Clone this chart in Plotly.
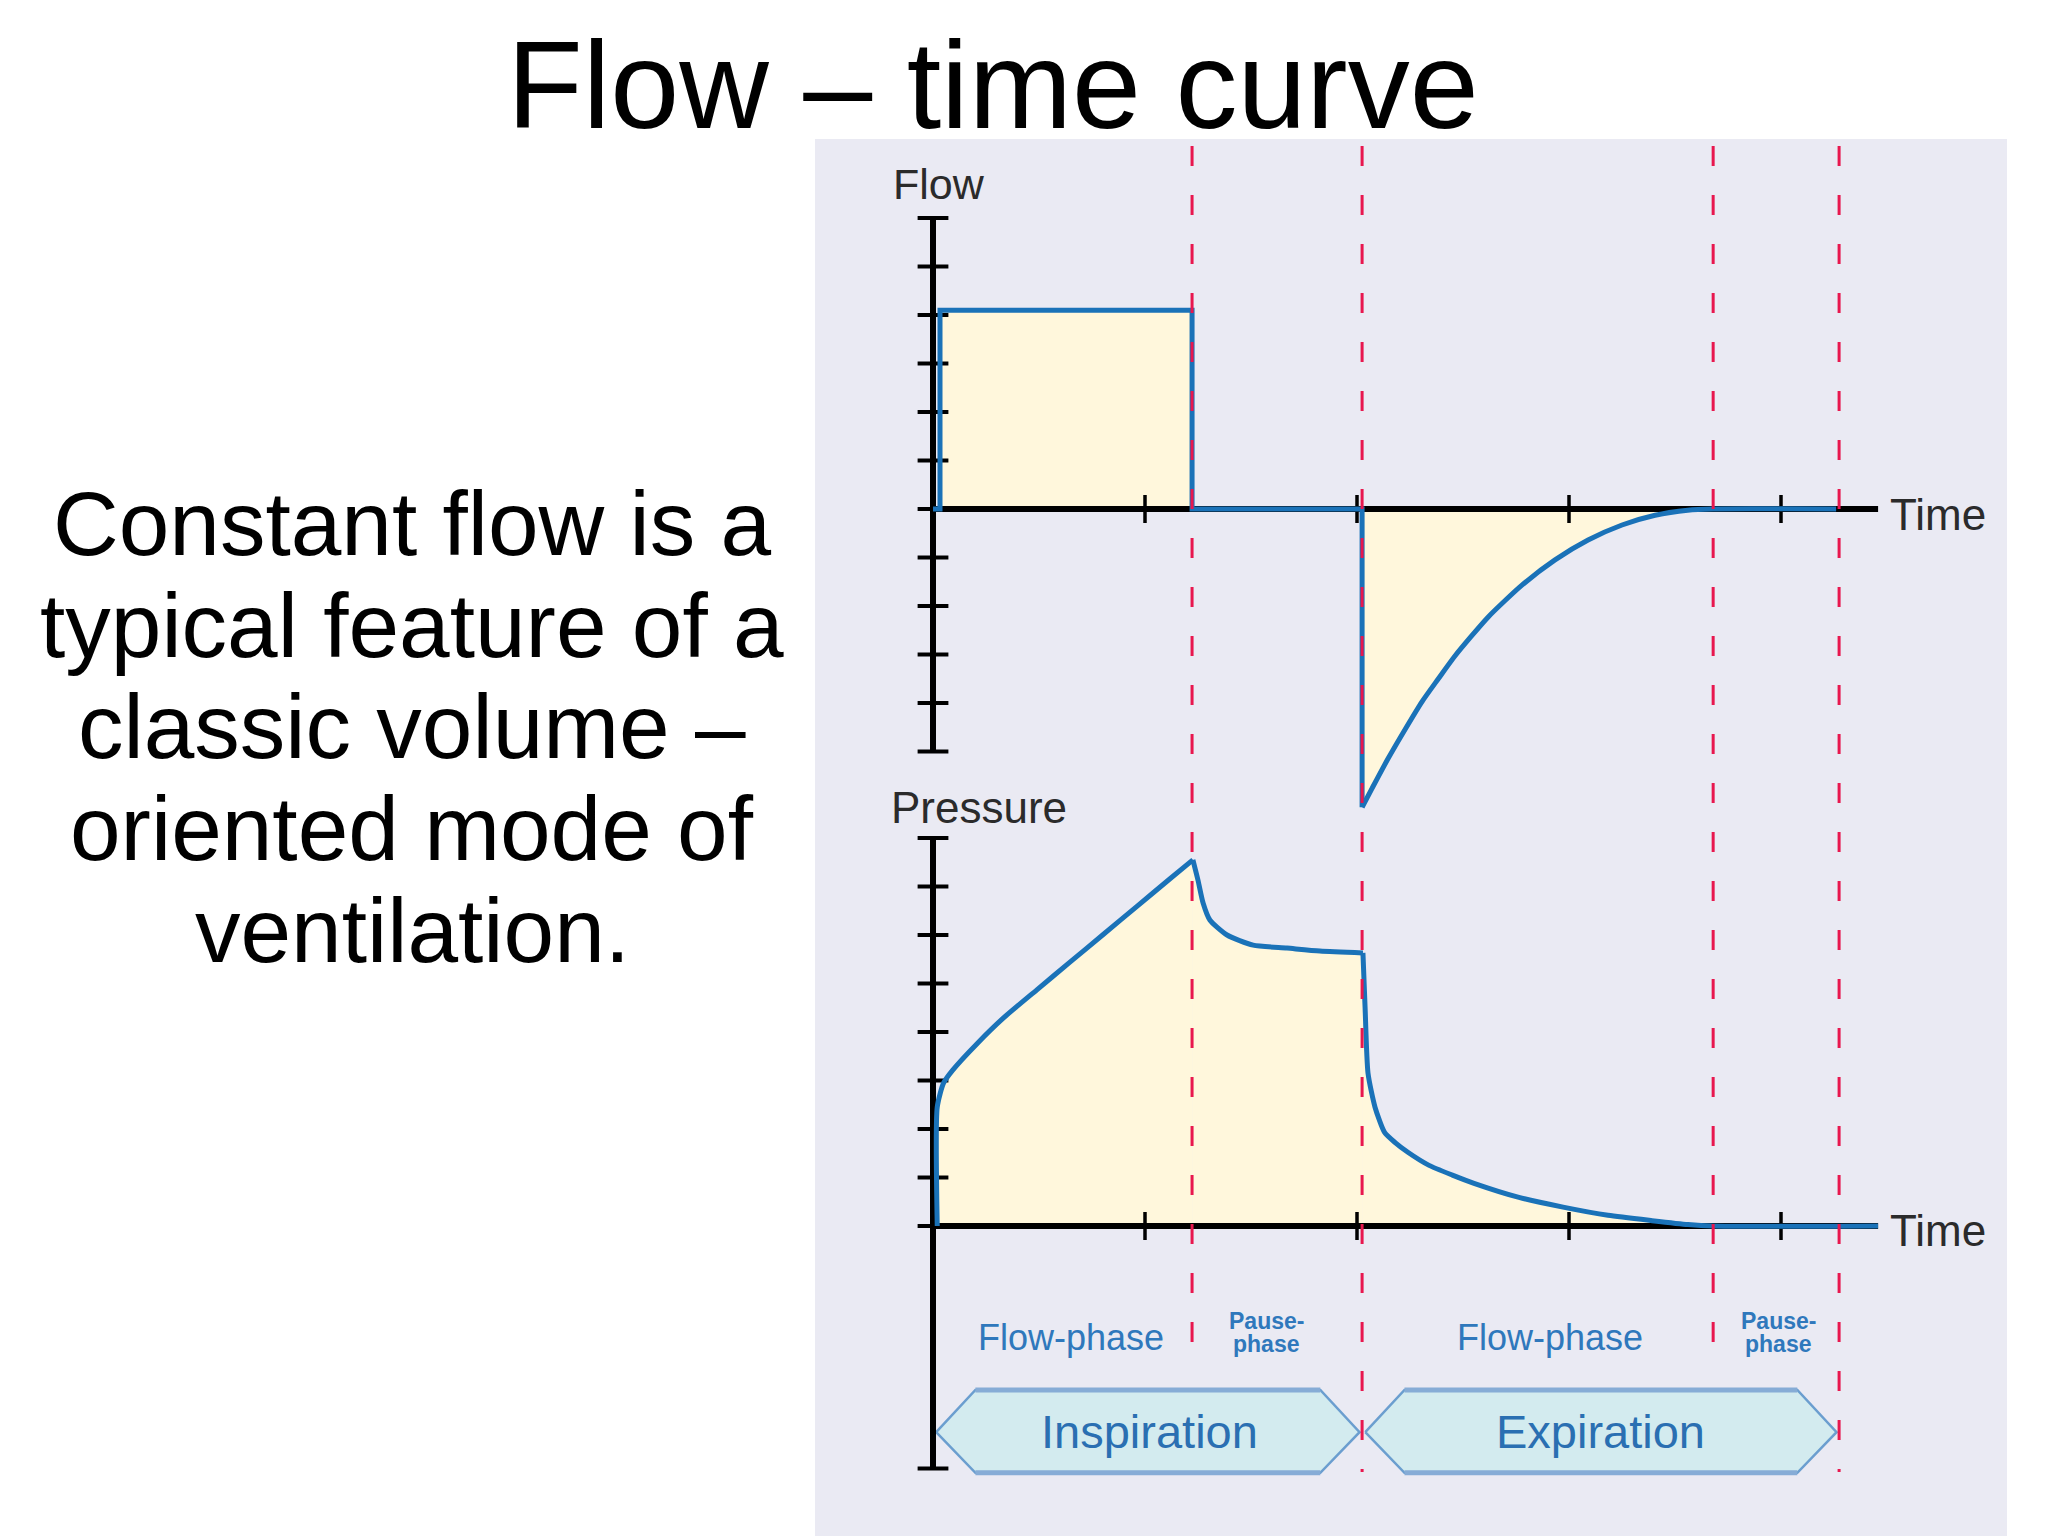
import plotly.graph_objects as go

# ---------------- data ----------------
# phase boundaries on the time axis (end of insp. flow, end of insp. pause, end of exp. flow, end of exp. pause)
phase_bounds = [1.222, 2.024, 3.68, 4.274]
time_axis_end = 4.458

# Flow-time curve: constant inspiratory flow, pause, passive expiration
flow_step_t = [0.0, 0.033, 0.033, 1.222, 1.222, 2.024, 2.024]
flow_step_v = [0.0, 0.0, 4.10, 4.10, 0.0, 0.0, -6.15]
flow_exp_t = [2.024, 2.071, 2.146, 2.226, 2.307, 2.382, 2.462, 2.618, 2.778, 2.934,
              3.09, 3.25, 3.406, 3.56, 3.68, 4.26]
flow_exp_v = [-6.15, -5.76, -5.15, -4.55, -3.97, -3.51, -3.03, -2.23, -1.57, -1.05,
              -0.64, -0.33, -0.13, -0.025, 0.0, 0.0]

# Pressure-time curve
pres_t = [0.02, 0.02, 0.05, 0.094, 0.21, 0.33, 0.49, 0.646, 0.80, 0.962, 1.118, 1.226,
          1.25, 1.274, 1.306, 1.387, 1.51, 1.67, 1.825, 2.028,
          2.038, 2.052, 2.085, 2.13, 2.18, 2.24, 2.34, 2.45, 2.552, 2.764, 2.972, 3.184,
          3.392, 3.561, 3.68, 4.458]
pres_v = [0.0, 2.45, 2.95, 3.22, 3.77, 4.28, 4.87, 5.44, 6.00, 6.59, 7.16, 7.55,
          7.13, 6.66, 6.31, 6.00, 5.79, 5.73, 5.67, 5.63,
          4.52, 3.15, 2.45, 1.93, 1.72, 1.52, 1.25, 1.05, 0.88, 0.59, 0.39, 0.22,
          0.11, 0.03, 0.0, 0.0]

# axis ticks
flow_yticks = [-5, -4, -3, -2, -1, 0, 1, 2, 3, 4, 5, 6]
pres_yticks = [-5, 0, 1, 2, 3, 4, 5, 6, 7, 8]
time_ticks = [1, 2, 3, 4]

# phases (start, end, label)
phases = [(0.0, 2.024, "Inspiration"), (2.024, 4.274, "Expiration")]
phase_labels = ["Flow-phase", "Pause-phase", "Flow-phase", "Pause-phase"]

title_text = "Flow \u2013 time curve"
body_lines = ["Constant flow is a", "typical feature of a", "classic volume \u2013",
              "oriented mode of", "ventilation."]

# ---------------- geometry / styles ----------------
W, H = 2048, 1536
X0, XU = 933.0, 212.0          # pixel of t=0, pixels per time unit
FY0, PY0, YU = 509.0, 1226.0, 48.5

FONT = "Liberation Sans, Arial, Helvetica, sans-serif"
BLUE = "#1a72b8"
FILL = "#fff7dc"
PANEL = "#eaeaf3"
RED = "#e8174e"
TXTBLUE = "#2f78bc"


def px(x):
    return x / W


def py(y):
    return 1 - y / H


# split pressure curve into rise / pause / expiration pieces (sharp corners kept between pieces)
i_peak = pres_v.index(max(pres_v))
i_plat = max(i for i, t in enumerate(pres_t) if t <= phase_bounds[1] + 0.01)
pres_pieces = [(pres_t[:i_peak + 1], pres_v[:i_peak + 1]),
               (pres_t[i_peak:i_plat + 1], pres_v[i_peak:i_plat + 1]),
               (pres_t[i_plat:], pres_v[i_plat:])]

fig = go.Figure()

# fills
fig.add_trace(go.Scatter(x=flow_step_t, y=flow_step_v, mode="lines", fill="tozeroy",
                         fillcolor=FILL, line=dict(width=0), hoverinfo="skip"))
fig.add_trace(go.Scatter(x=flow_exp_t, y=flow_exp_v, mode="lines", fill="tozeroy",
                         line_shape="spline", line_smoothing=0.6,
                         fillcolor=FILL, line=dict(width=0), hoverinfo="skip"))
for xs, ys in pres_pieces:
    fig.add_trace(go.Scatter(x=xs, y=ys, mode="lines", fill="tozeroy", yaxis="y2",
                             line_shape="spline", line_smoothing=0.6,
                             fillcolor=FILL, line=dict(width=0), hoverinfo="skip"))

# phase hexagons
mid, top, bot, ins = -4.25, -3.38, -5.09, 0.185
for (s, e, lab) in phases:
    L, R = s + 0.015, e - 0.012
    fig.add_trace(go.Scatter(x=[L, L + ins, R - ins, R, R - ins, L + ins, L],
                             y=[mid, top, top, mid, bot, bot, mid], yaxis="y2",
                             mode="lines", fill="toself", fillcolor="#d3ebef",
                             line=dict(color="#6b9ecf", width=2.5), hoverinfo="skip"))
    for yy in (top, bot):
        fig.add_trace(go.Scatter(x=[L + ins, R - ins], y=[yy, yy], yaxis="y2", mode="lines",
                                 line=dict(color="#86acd6", width=5), hoverinfo="skip"))

# axes lines
fig.add_trace(go.Scatter(x=[0, 0], y=[min(flow_yticks), max(flow_yticks)], mode="lines",
                         line=dict(color="black", width=6), hoverinfo="skip"))
fig.add_trace(go.Scatter(x=[0, time_axis_end], y=[0, 0], mode="lines",
                         line=dict(color="black", width=6), hoverinfo="skip"))
fig.add_trace(go.Scatter(x=[0, 0], y=[min(pres_yticks), max(pres_yticks)], mode="lines", yaxis="y2",
                         line=dict(color="black", width=6), hoverinfo="skip"))
fig.add_trace(go.Scatter(x=[0, time_axis_end], y=[0, 0], mode="lines", yaxis="y2",
                         line=dict(color="black", width=6), hoverinfo="skip"))

# ticks
fig.add_trace(go.Scatter(x=[0] * len(flow_yticks), y=flow_yticks, mode="markers",
                         marker=dict(symbol="line-ew", size=22, line=dict(color="black", width=4)),
                         hoverinfo="skip"))
fig.add_trace(go.Scatter(x=[0] * len(pres_yticks), y=pres_yticks, mode="markers", yaxis="y2",
                         marker=dict(symbol="line-ew", size=22, line=dict(color="black", width=4)),
                         hoverinfo="skip"))
fig.add_trace(go.Scatter(x=time_ticks, y=[0] * len(time_ticks), mode="markers",
                         marker=dict(symbol="line-ns", size=20, line=dict(color="black", width=3.5)),
                         hoverinfo="skip"))
fig.add_trace(go.Scatter(x=time_ticks, y=[0] * len(time_ticks), mode="markers", yaxis="y2",
                         marker=dict(symbol="line-ns", size=20, line=dict(color="black", width=3.5)),
                         hoverinfo="skip"))

# curves
fig.add_trace(go.Scatter(x=flow_step_t, y=flow_step_v, mode="lines",
                         line=dict(color=BLUE, width=5), hoverinfo="skip"))
fig.add_trace(go.Scatter(x=flow_exp_t, y=flow_exp_v, mode="lines",
                         line_shape="spline", line_smoothing=0.6,
                         line=dict(color=BLUE, width=5), hoverinfo="skip"))
for xs, ys in pres_pieces:
    fig.add_trace(go.Scatter(x=xs, y=ys, mode="lines", yaxis="y2",
                             line_shape="spline", line_smoothing=0.6,
                             line=dict(color=BLUE, width=5), hoverinfo="skip"))

# shapes: grey panel and dashed phase lines
shapes = [dict(type="rect", xref="paper", yref="paper", x0=px(815), x1=px(2007),
               y0=0, y1=py(139), fillcolor=PANEL, line=dict(width=0), layer="below")]
dash_bottoms = [1368, 1472, 1368, 1472]
for b, yb in zip(phase_bounds, dash_bottoms):
    shapes.append(dict(type="line", xref="x", yref="paper", x0=b, x1=b,
                       y0=py(146), y1=py(yb), line=dict(color=RED, width=3, dash="20px,29px"),
                       layer="above"))

# annotations
ann = []
ann.append(dict(text=title_text, x=px(993), y=py(85), font=dict(size=124, color="black")))
body_base = [555, 657, 758, 860, 962]
for line, bl in zip(body_lines, body_base):
    ann.append(dict(text=line, x=px(412), y=py(bl - 32), font=dict(size=91, color="black")))
GREY = "#2b2b2b"
ann.append(dict(text="Flow", x=px(891), y=py(184), xanchor="left", font=dict(size=43, color=GREY)))
ann.append(dict(text="Pressure", x=px(889), y=py(807), xanchor="left", font=dict(size=44, color=GREY)))
ann.append(dict(text="Time", x=px(1888), y=py(514), xanchor="left", font=dict(size=44, color=GREY)))
ann.append(dict(text="Time", x=px(1888), y=py(1230), xanchor="left", font=dict(size=44, color=GREY)))

label_x = [1071, 1266, 1550, 1778]
for lab, lx in zip(phase_labels, label_x):
    if lab == "Flow-phase":
        ann.append(dict(text=lab, x=px(lx), y=py(1337), font=dict(size=36, color=TXTBLUE)))
    else:
        a, b = lab.split("-")
        ann.append(dict(text="<b>" + a + "-</b>", x=px(lx), y=py(1321), font=dict(size=23, color=TXTBLUE)))
        ann.append(dict(text="<b>" + b + "</b>", x=px(lx), y=py(1344), font=dict(size=23, color=TXTBLUE)))
for (s, e, lab), lx in zip(phases, [1149, 1600]):
    ann.append(dict(text=lab, x=px(lx), y=py(1431), font=dict(size=47, color="#2a6fb2")))

for a in ann:
    a.update(xref="paper", yref="paper", showarrow=False)
    a.setdefault("xanchor", "center")
    a["yanchor"] = "middle"

fig.update_layout(
    width=W, height=H, autosize=False,
    margin=dict(l=0, r=0, t=0, b=0, pad=0),
    paper_bgcolor="white", plot_bgcolor="white",
    showlegend=False,
    font=dict(family=FONT),
    xaxis=dict(range=[-X0 / XU, (W - X0) / XU], domain=[0, 1], visible=False, fixedrange=True),
    yaxis=dict(range=[(FY0 - H) / YU, FY0 / YU], domain=[0, 1], visible=False, fixedrange=True),
    yaxis2=dict(range=[(PY0 - H) / YU, PY0 / YU], domain=[0, 1], visible=False,
                overlaying="y", fixedrange=True),
    shapes=shapes,
    annotations=ann,
)

fig.write_html("out.html", config={"displayModeBar": False},
               post_script="document.body.style.margin='0px';document.body.style.overflow='hidden';")
